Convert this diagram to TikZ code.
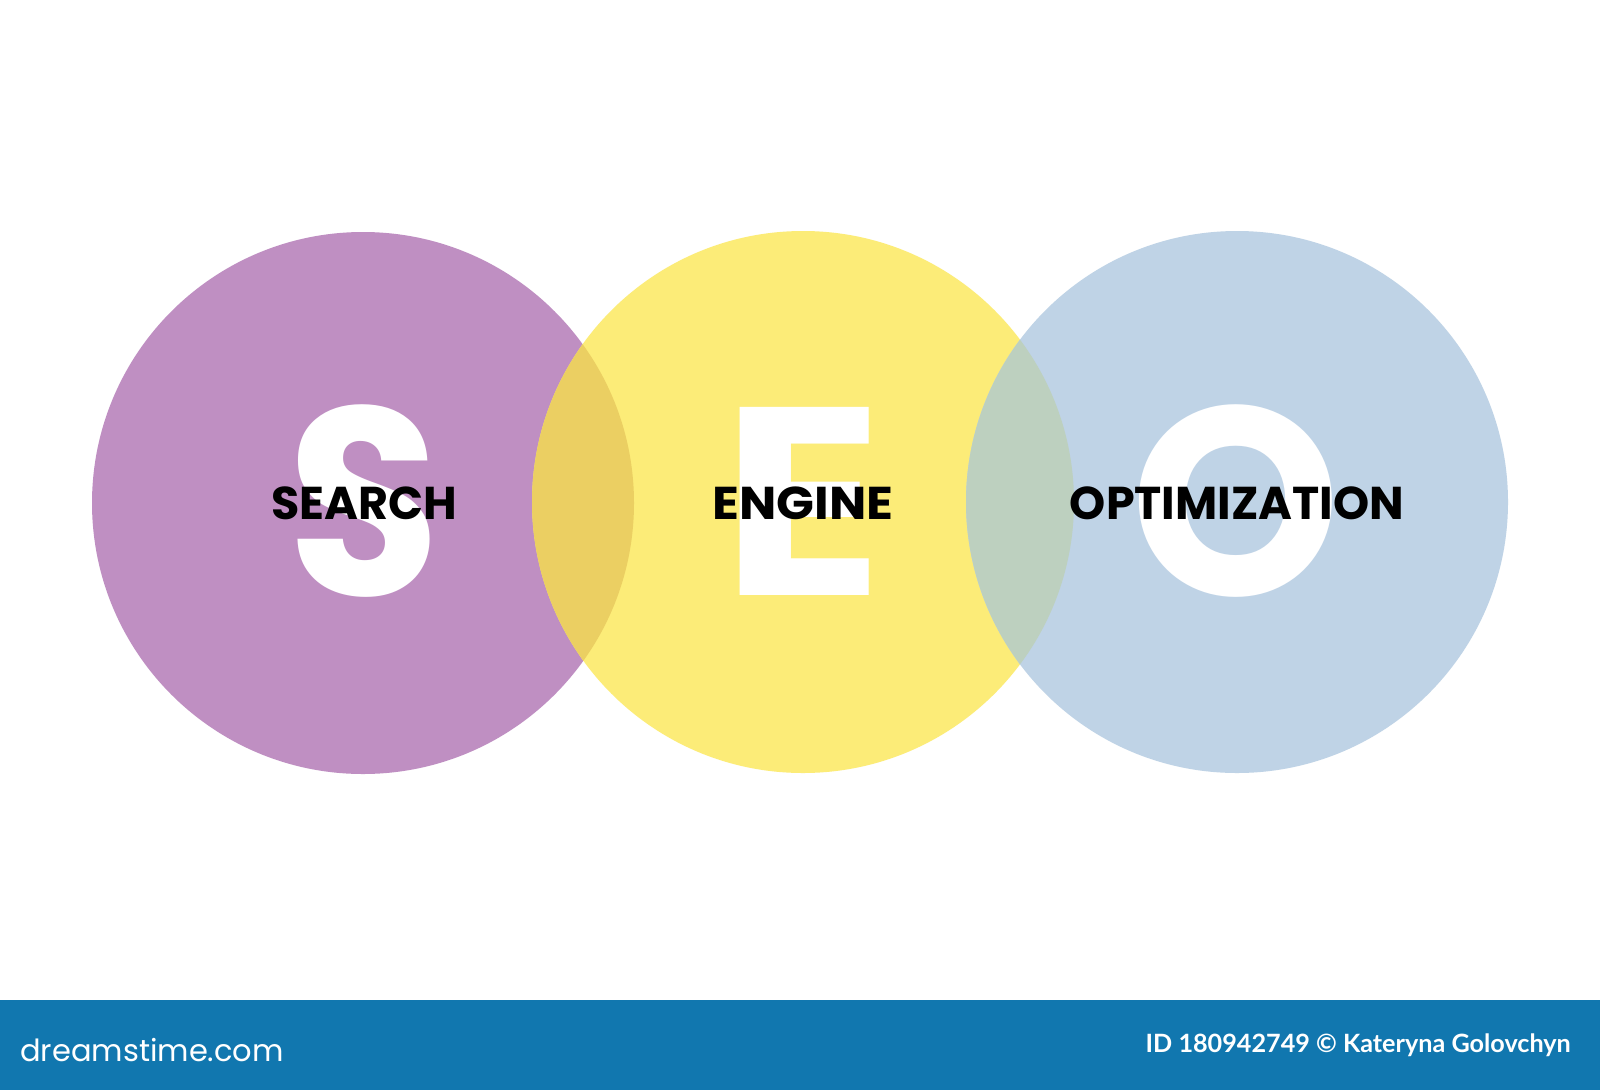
\documentclass[tikz,border=0pt]{standalone}
\usepackage{fontspec}
\setmainfont{Poppins}
\newfontfamily\idfont{Lato}
\definecolor{cpurple}{HTML}{BF8FC2}
\definecolor{cyellow}{HTML}{FCEC78}
\definecolor{cblue}{HTML}{BFD3E6}
\definecolor{lensPY}{HTML}{EBCF62}
\definecolor{lensYB}{HTML}{BDD0BF}
\definecolor{band}{HTML}{1177AF}
\tikzset{
  disc/.style={circle, inner sep=0pt, minimum size=542pt},
  bigletter/.style={inner sep=0pt, text=white, font=\fontsize{268}{268}\selectfont\bfseries},
  wordlbl/.style={inner sep=0pt, text=black, font=\fontsize{46}{46}\selectfont\bfseries},
}
\begin{document}
\begin{tikzpicture}[x=1pt,y=-1pt]
\useasboundingbox (0,0) rectangle (1600,1090);
\fill[white] (0,0) rectangle (1600,1090);
% discs
\node[disc, fill=cpurple] (cs) at (363,503) {};
\node[disc, fill=cyellow] (ce) at (803,502) {};
\node[disc, fill=cblue] (co) at (1237,502) {};
% overlaps
\begin{scope}
  \clip (cs.center) circle (271);
  \fill[lensPY] (ce.center) circle (271);
\end{scope}
\begin{scope}
  \clip (ce.center) circle (271);
  \fill[lensYB] (co.center) circle (271);
\end{scope}
% big letters
\node[bigletter] (bs) at (364,501) {\scalebox{0.93}[1]{S}};
\node[bigletter] (be) at (803,501) {\scalebox{1.12}[1]{E}};
\node[bigletter] (bo) at (1236,501) {O};
% words
\node[wordlbl] (ws) at (364,503) {SEARCH};
\node[wordlbl] (we) at (803,503) {\scalebox{1.08}[1]{ENGINE}};
\node[wordlbl] (wo) at (1237,503) {OPTIMIZATION};
% bottom band
\fill[band] (0,1000) rectangle (1600,1090);
\node[anchor=west, inner sep=0pt, text=white, font=\fontsize{30.5}{30.5}\selectfont] (dt) at (20,1050) {dreamstime.com};
\node[anchor=east, inner sep=0pt, text=white, font=\idfont\fontsize{25.2}{25.2}\selectfont\bfseries] (id) at (1571,1045) {ID 180942749 © Kateryna Golovchyn};
\end{tikzpicture}
\end{document}
